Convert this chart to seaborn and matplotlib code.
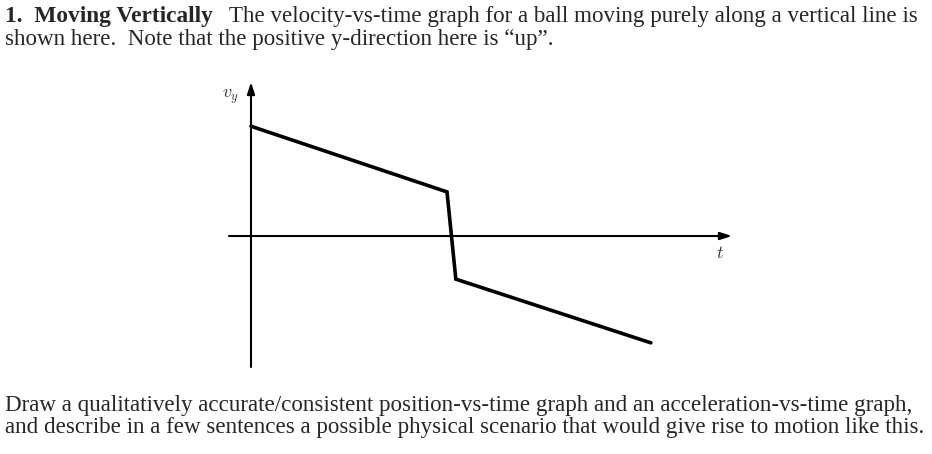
import matplotlib
matplotlib.use("Agg")
import matplotlib.pyplot as plt
import seaborn as sns
import pandas as pd

# velocity-vs-time curve (arbitrary units)
t_values = [0.0, 4.0, 4.18, 8.16]
v_values = [2.24, 0.90, -0.88, -2.18]

title_bold = "1.  Moving Vertically"
title_rest = "The velocity-vs-time graph for a ball moving purely along a vertical line is"
title_line2 = "shown here.  Note that the positive y-direction here is \u201cup\u201d."
bottom_line1 = "Draw a qualitatively accurate/consistent position-vs-time graph and an acceleration-vs-time graph,"
bottom_line2 = "and describe in a few sentences a possible physical scenario that would give rise to motion like this."

sns.set_theme(style="white")
plt.rcParams['font.family'] = ['Liberation Serif', 'DejaVu Serif']
plt.rcParams['mathtext.fontset'] = 'cm'

W, H = 932, 454
fig = plt.figure(figsize=(W / 100, H / 100), dpi=100)

df = pd.DataFrame({'t': t_values, 'v': v_values})

ax = fig.add_axes([229 / W, 1 - 367 / H, (732 - 229) / W, (367 - 82) / H])
sns.lineplot(data=df, x='t', y='v', ax=ax, color='black', linewidth=2.6,
             sort=False, solid_joinstyle='miter')
ax.set_xlim(-0.449, 9.816)
ax.set_ylim(-2.673, 3.143)
for s in ax.spines.values():
    s.set_visible(False)
ax.set_xticks([])
ax.set_yticks([])
ax.set_xlabel('')
ax.set_ylabel('')
ax.patch.set_alpha(0)

arrow = dict(arrowstyle='-|>,head_length=0.5,head_width=0.16', color='black',
             lw=1.5, shrinkA=0, shrinkB=0, mutation_scale=14)
# horizontal axis (t)
ax.annotate('', xy=(1, 0), xycoords=('axes fraction', 'data'),
            xytext=(0, 0), textcoords=('axes fraction', 'data'), arrowprops=arrow)
# vertical axis (v_y)
ax.annotate('', xy=(0, 1), xycoords=('data', 'axes fraction'),
            xytext=(0, 0), textcoords=('data', 'axes fraction'), arrowprops=arrow)

ax.text(0.002, 0.947, r'$v_y$', transform=ax.transAxes, fontsize=13,
        color='#333333', ha='center', va='center')
ax.text(0.976, 0.40, r'$t$', transform=ax.transAxes, fontsize=13,
        color='#333333', ha='center', va='center')

fs = 16.6
fig.text(5 / W, 1 - 22 / H, title_bold, fontsize=16.8, fontweight='bold', va='baseline')
fig.text(229 / W, 1 - 22 / H, title_rest, fontsize=fs, va='baseline')
fig.text(5 / W, 1 - 45 / H, title_line2, fontsize=fs, va='baseline')
fig.text(5 / W, 1 - 411 / H, bottom_line1, fontsize=fs, va='baseline')
fig.text(5 / W, 1 - 433 / H, bottom_line2, fontsize=fs, va='baseline')

fig.savefig('out.png', dpi=100)
